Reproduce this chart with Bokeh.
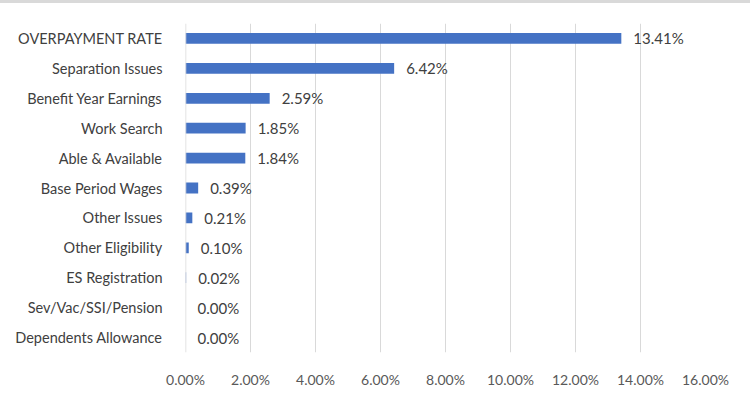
from bokeh.plotting import figure
from bokeh.models import ColumnDataSource, FactorRange, Range1d, FixedTicker, LabelSet, CustomJSTickFormatter, Div, Span
from bokeh.layouts import column
from bokeh.core.properties import value
from bokeh.embed import file_html
from bokeh.resources import INLINE

categories = ["OVERPAYMENT RATE", "Separation Issues", "Benefit Year Earnings", "Work Search",
              "Able & Available", "Base Period Wages", "Other Issues", "Other Eligibility",
              "ES Registration", "Sev/Vac/SSI/Pension", "Dependents Allowance"]
values = [13.41, 6.42, 2.59, 1.85, 1.84, 0.39, 0.21, 0.10, 0.02, 0.00, 0.00]
x_ticks = [0, 2, 4, 6, 8, 10, 12, 14, 16]

FONT = "Lato"

src = ColumnDataSource(dict(cat=categories, val=values,
                            lab=[f"{v:.2f}%" for v in values]))

top_line = Div(text="", width=750, height=3, margin=(0, 0, 0, 0),
               styles={"background-color": "#d9d9d9"})

p = figure(width=750, height=394, output_backend="svg", toolbar_location=None,
           y_range=FactorRange(*categories[::-1], range_padding=0),
           x_range=Range1d(0, 16), margin=(0, 0, 0, 0))
p.min_border_left = 185
p.min_border_right = 45
p.min_border_top = 20
p.min_border_bottom = 45
p.outline_line_color = None

p.xgrid.grid_line_color = "#d9d9d9"
p.xgrid.grid_line_width = 1
p.ygrid.grid_line_color = None

p.add_layout(Span(location=0, dimension="height", line_color="#d9d9d9", line_width=1.5))

p.hbar(y="cat", right="val", left=0, height=0.36, source=src,
       fill_color="#4472C4", line_color=None)

labels = LabelSet(x="val", y="cat", text="lab", source=src, x_offset=12,
                  text_baseline="middle", text_font=value(FONT), text_font_size="15px",
                  text_color="#404040")
p.add_layout(labels)

p.xaxis.ticker = FixedTicker(ticks=x_ticks)
p.xaxis.formatter = CustomJSTickFormatter(code="return tick.toFixed(2) + '%';")
p.xaxis.axis_line_color = None
p.xaxis.major_tick_line_color = None
p.xaxis.minor_tick_line_color = None
p.xaxis.major_label_standoff = 12
p.xaxis.major_label_text_font = FONT
p.xaxis.major_label_text_font_size = "14px"
p.xaxis.major_label_text_color = "#595959"

p.yaxis.axis_line_color = None
p.yaxis.major_tick_line_color = None
p.yaxis.minor_tick_line_color = None
p.yaxis.major_label_standoff = 17
p.yaxis.major_label_text_font = FONT
p.yaxis.major_label_text_font_size = "14.5px"
p.yaxis.major_label_text_color = "#404040"

layout = column(top_line, p, spacing=0)

open("out.html", "w").write(file_html(layout, INLINE))
